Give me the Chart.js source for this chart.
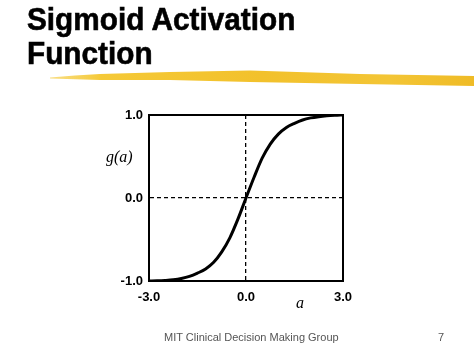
<!DOCTYPE html>
<html>
<head>
<meta charset="utf-8">
<script src="https://cdn.jsdelivr.net/npm/chart.js@4/dist/chart.umd.min.js"></script>
<style>
html,body{margin:0;padding:0;background:#fff;}
#wrap{position:relative;width:474px;height:355px;overflow:hidden;}
#c{position:absolute;left:0;top:0;}
.title{position:absolute;left:27px;top:2px;font-family:"Liberation Sans",Arial,sans-serif;font-weight:bold;font-size:32px;line-height:34px;color:#000;transform:scaleX(0.93);transform-origin:0 0;white-space:nowrap;-webkit-text-stroke:0.6px #000;}
.foot{position:absolute;font-family:"Liberation Sans",Arial,sans-serif;font-size:11px;color:#555;}
.ax{position:absolute;font-family:"Liberation Serif","Times New Roman",serif;font-style:italic;font-size:16px;color:#000;}
</style>
</head>
<body>
<div id="wrap">
<canvas id="c" width="474" height="355"></canvas>
<div class="title">Sigmoid Activation<br>Function</div>
<div class="ax" style="left:106px;top:148px;">g(a)</div>
<div class="ax" style="left:296px;top:294px;">a</div>
<div class="foot" style="left:164px;top:331px;">MIT Clinical Decision Making Group</div>
<div class="foot" style="left:438px;top:331px;">7</div>
</div>
<script>
// values
const aValues = [-3.0,-2.75,-2.5,-2.25,-2.0,-1.75,-1.5,-1.25,-1.0,-0.75,-0.5,-0.25,0,0.25,0.5,0.75,1.0,1.25,1.5,1.75,2.0,2.25,2.5,2.75,3.0];
const gValues = [-1.0,-0.998,-0.993,-0.985,-0.97,-0.945,-0.905,-0.855,-0.775,-0.65,-0.48,-0.255,0,0.25,0.48,0.65,0.77,0.85,0.90,0.94,0.965,0.98,0.99,0.996,1.0];
const xTicks = [-3, 0, 3];
const yTicks = [-1, 0, 1];

const points = aValues.map((a,i)=>({x:a,y:gValues[i]}));

const brush = {
  id:'brush',
  beforeDraw(chart){
    const ctx = chart.ctx;
    ctx.save();
    const g = ctx.createLinearGradient(50,0,474,0);
    g.addColorStop(0,'rgba(246,208,80,0.7)');
    g.addColorStop(0.12,'#f5c937');
    g.addColorStop(0.5,'#f2c12c');
    g.addColorStop(0.8,'#f3c535');
    g.addColorStop(1,'#efbb26');
    ctx.fillStyle = g;
    ctx.beginPath();
    ctx.moveTo(50,77.5);
    ctx.quadraticCurveTo(75,75,100,74);
    ctx.lineTo(170,72);
    ctx.lineTo(250,70.5);
    ctx.lineTo(360,74);
    ctx.lineTo(474,76);
    ctx.lineTo(474,86);
    ctx.lineTo(360,84);
    ctx.lineTo(250,82);
    ctx.lineTo(170,80);
    ctx.lineTo(100,80);
    ctx.quadraticCurveTo(75,79,50,78.5);
    ctx.closePath();
    ctx.fill();
    ctx.restore();
  }
};
const frame = {
  id:'frame',
  afterDatasetsDraw(chart){
    const {ctx, chartArea:a} = chart;
    ctx.save();
    ctx.strokeStyle='#000';
    ctx.lineWidth=2;
    ctx.strokeRect(a.left,a.top,a.right-a.left,a.bottom-a.top);
    ctx.restore();
  }
};

new Chart(document.getElementById('c'),{
  type:'line',
  data:{datasets:[{data:points,borderColor:'#000',borderWidth:3,pointRadius:0,cubicInterpolationMode:'monotone',fill:false}]},
  options:{
    responsive:false,animation:false,
    layout:{padding:{left:109,top:115,right:131,bottom:44}},
    plugins:{legend:{display:false},tooltip:{enabled:false},title:{display:false}},
    scales:{
      x:{type:'linear',min:-3,max:3,
        afterFit(s){s.height=30;},
        afterBuildTicks(s){s.ticks=xTicks.map(v=>({value:v}));},
        ticks:{color:'#000',padding:9,font:{family:'"Liberation Sans", Arial, sans-serif',size:13,weight:'bold'},callback:v=>v.toFixed(1),maxRotation:0,autoSkip:false},
        grid:{drawTicks:false,lineWidth:1.3,color:c=>c.tick&&c.tick.value===0?'#000':'rgba(0,0,0,0)'},
        border:{display:true,color:'#000',width:2,dash:[4,3]}
      },
      y:{min:-1,max:1,
        afterFit(s){s.width=40;},
        afterBuildTicks(s){s.ticks=yTicks.map(v=>({value:v}));},
        ticks:{color:'#000',padding:6,font:{family:'"Liberation Sans", Arial, sans-serif',size:13,weight:'bold'},callback:v=>v.toFixed(1),autoSkip:false},
        grid:{drawTicks:false,lineWidth:1.3,color:c=>c.tick&&c.tick.value===0?'#000':'rgba(0,0,0,0)'},
        border:{display:true,color:'#000',width:2,dash:[4,3]}
      }
    }
  },
  plugins:[brush,frame]
});
</script>
</body>
</html>
